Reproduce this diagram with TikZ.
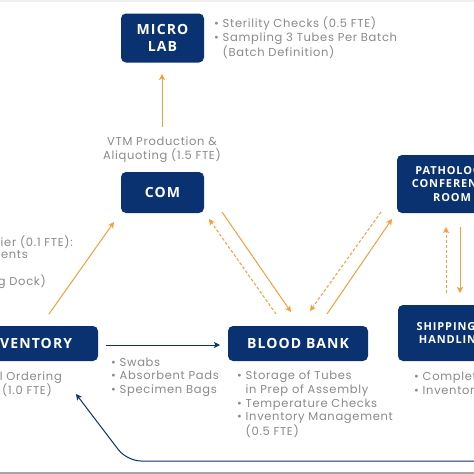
\documentclass[tikz,border=0pt]{standalone}
\usepackage{fontspec}
\setmainfont[LetterSpace=6]{Poppins}
\newfontfamily\lab[LetterSpace=8]{Open Sans}
\usetikzlibrary{arrows.meta}
\definecolor{navy}{HTML}{0B3270}
\definecolor{org}{HTML}{F2A03C}
\definecolor{txt}{HTML}{8A8A8A}
\begin{document}
\begin{tikzpicture}[x=1pt,y=-1pt,
 box/.style={fill=navy,rounded corners=5pt,text=white,align=center,inner sep=0pt,font=\lab\bfseries\fontsize{14}{16.5}\selectfont},
 sbox/.style={box,font=\lab\bfseries\fontsize{11}{13.5}\selectfont},
 note/.style={text=txt,font=\fontsize{11.5}{13.6}\selectfont,inner sep=0pt,align=left},
 tipa/.style={-{Stealth[length=6pt,width=6pt,inset=1.5pt]}},
 oa/.style={draw=org,line width=1pt,tipa},
 od/.style={oa,dash pattern=on 3pt off 2pt},
 na/.style={draw=navy,line width=1pt,tipa}
]
\useasboundingbox (0,0) rectangle (474,474);
\clip (0,0) rectangle (474,474);
\fill[white] (0,0) rectangle (474,474);
\fill[black!6] (0,0) rectangle (474,2);
\fill[black!35] (0,472) rectangle (474,474);

% boxes
\node[box,minimum width=83pt,minimum height=49pt] (micro) at (162.5,38) {MICRO\\LAB};
\node[box,minimum width=83pt,minimum height=41pt] (com) at (162.5,192.5) {COM};
\node[box,minimum width=140pt,minimum height=35pt] (bb) at (298,343.5) {BLOOD BANK};
\node[box,minimum width=142pt,minimum height=35pt] (inv) at (27,343.5) {INVENTORY};
\node[sbox,minimum width=110pt,minimum height=58pt] (path) at (452,184) {PATHOLOGY\\CONFERENCE\\ROOM};
\node[sbox,minimum width=108pt,minimum height=56pt] (ship) at (452,333) {SHIPPING \&\\HANDLING};

% notes
\node[note,anchor=north west] (nmicro) at (214,17) {• Sterility Checks (0.5 FTE)\\• Sampling 3 Tubes Per Batch\\\phantom{• }(Batch Definition)};
\node[note,anchor=north,align=center] (nvtm) at (162,136.5) {VTM Production \&\\Aliquoting (1.5 FTE)};
\node[note,anchor=north west] (nsw) at (111,357.5) {• Swabs\\• Absorbent Pads\\• Specimen Bags};
\node[note,anchor=north west] (nbb) at (237,371) {• Storage of Tubes\\\phantom{• }in Prep of Assembly\\• Temperature Checks\\• Inventory Management\\\phantom{• }(0.5 FTE)};
\node[note,anchor=north west] (nship) at (414,371.5) {• Completion of Kits\\• Inventory Control};
\node[note,anchor=base east] (nc1) at (73,246.5) {• Courier (0.1 FTE):};
\node[note,anchor=base east] (nc2) at (28,258.5) {Recipients};
\node[note,anchor=base east] (nc3) at (46,285) {(Loading Dock)};
\node[note,anchor=base east] (ni1) at (62,380.5) {• Overall Ordering};
\node[note,anchor=base east] (ni2) at (52,394.5) {(1.0 FTE)};

% connector endpoints
\coordinate (c1) at (162,127); \coordinate (c2) at (162,74);
\coordinate (i1) at (49,314); \coordinate (i2) at (114,222);
\coordinate (cb1) at (222,212); \coordinate (cb2) at (291,312);
\coordinate (bc1) at (276,314); \coordinate (bc2) at (209,219);
\coordinate (pb1) at (381,212); \coordinate (pb2) at (310,311);
\coordinate (bp1) at (327,314); \coordinate (bp2) at (392,219);
\coordinate (sp1) at (446,293); \coordinate (sp2) at (446,227);
\coordinate (ps1) at (460,227); \coordinate (ps2) at (460,293);
\coordinate (ib1) at (106,345); \coordinate (ib2) at (220,345);
\coordinate (r0) at (496,366); \coordinate (r1) at (496,461);
\coordinate (r2) at (127,461); \coordinate (r3) at (76,394);

\draw[oa] (c1) -- (c2);
\draw[oa] (i1) -- (i2);
\draw[oa] (cb1) -- (cb2);
\draw[od] (bc1) -- (bc2);
\draw[od] (pb1) -- (pb2);
\draw[oa] (bp1) -- (bp2);
\draw[od] (sp1) -- (sp2);
\draw[oa] (ps1) -- (ps2);
\draw[na] (ib1) -- (ib2);
\draw[na,rounded corners=14pt] (r0) -- (r1) -- (r2) -- (r3);
\end{tikzpicture}
\end{document}
